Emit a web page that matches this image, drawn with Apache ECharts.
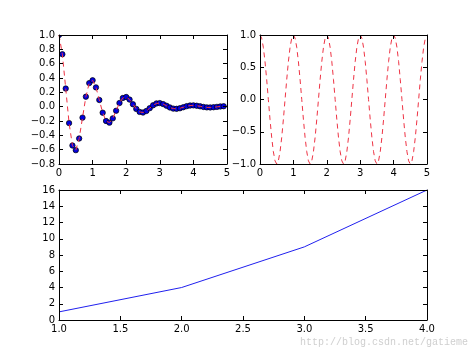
<!DOCTYPE html>
<html><head><meta charset="utf-8">
<script src="https://cdn.jsdelivr.net/npm/echarts@6/dist/echarts.min.js"></script>
<style>html,body{margin:0;padding:0;background:#fff}#c{width:474px;height:355px}</style>
</head><body><div id="c"></div>
<script>
// Subplot 1: damped cosine sample points
const t1 = [0,0.1,0.2,0.3,0.4,0.5,0.6,0.7,0.8,0.9,1.0,1.1,1.2,1.3,1.4,1.5,1.6,1.7,1.8,1.9,2.0,2.1,2.2,2.3,2.4,2.5,2.6,2.7,2.8,2.9,3.0,3.1,3.2,3.3,3.4,3.5,3.6,3.7,3.8,3.9,4.0,4.1,4.2,4.3,4.4,4.5,4.6,4.7,4.8,4.9];
const f1 = [1.0,0.732,0.253,-0.229,-0.542,-0.607,-0.444,-0.153,0.139,0.329,0.368,0.269,0.093,-0.084,-0.200,-0.223,-0.163,-0.057,0.051,0.121,0.135,0.099,0.034,-0.031,-0.073,-0.082,-0.060,-0.021,0.019,0.045,0.050,0.036,0.013,-0.011,-0.027,-0.030,-0.022,-0.008,0.007,0.016,0.018,0.013,0.005,-0.004,-0.010,-0.011,-0.008,-0.003,0.003,0.006];
// Subplot 2: cosine
const t2 = [0,0.05,0.1,0.15,0.2,0.25,0.3,0.35,0.4,0.45,0.5,0.55,0.6,0.65,0.7,0.75,0.8,0.85,0.9,0.95,
1.0,1.05,1.1,1.15,1.2,1.25,1.3,1.35,1.4,1.45,1.5,1.55,1.6,1.65,1.7,1.75,1.8,1.85,1.9,1.95,
2.0,2.05,2.1,2.15,2.2,2.25,2.3,2.35,2.4,2.45,2.5,2.55,2.6,2.65,2.7,2.75,2.8,2.85,2.9,2.95,
3.0,3.05,3.1,3.15,3.2,3.25,3.3,3.35,3.4,3.45,3.5,3.55,3.6,3.65,3.7,3.75,3.8,3.85,3.9,3.95,
4.0,4.05,4.1,4.15,4.2,4.25,4.3,4.35,4.4,4.45,4.5,4.55,4.6,4.65,4.7,4.75,4.8,4.85,4.9,4.95,5.0];
const f2 = [1,0.951,0.809,0.588,0.309,0,-0.309,-0.588,-0.809,-0.951,-1,-0.951,-0.809,-0.588,-0.309,0,0.309,0.588,0.809,0.951,
1,0.951,0.809,0.588,0.309,0,-0.309,-0.588,-0.809,-0.951,-1,-0.951,-0.809,-0.588,-0.309,0,0.309,0.588,0.809,0.951,
1,0.951,0.809,0.588,0.309,0,-0.309,-0.588,-0.809,-0.951,-1,-0.951,-0.809,-0.588,-0.309,0,0.309,0.588,0.809,0.951,
1,0.951,0.809,0.588,0.309,0,-0.309,-0.588,-0.809,-0.951,-1,-0.951,-0.809,-0.588,-0.309,0,0.309,0.588,0.809,0.951,
1,0.951,0.809,0.588,0.309,0,-0.309,-0.588,-0.809,-0.951,-1,-0.951,-0.809,-0.588,-0.309,0,0.309,0.588,0.809,0.951,1];
// Subplot 3
const x3 = [1,2,3,4];
const y3 = [1,4,9,16];

const pairs = (xs, ys) => xs.map((x, i) => [x, ys[i]]);
const fmt1 = v => (Math.round(v * 10) / 10).toFixed(1).replace('-', '\u2212');
const fmt0 = v => String(Math.round(v)).replace('-', '\u2212');
const font = {fontFamily: 'DejaVu Sans', fontSize: 10, color: '#000'};
const RED = '#ee3344';

function axisPair(gridIndex, min, max, interval, fmt, isX) {
  const common = {
    type: 'value', gridIndex, min, max, interval,
    axisLine: {show: true, onZero: false, lineStyle: {color: '#000', width: 1}},
    axisTick: {show: true, inside: true, length: 4, lineStyle: {color: '#000'}},
    splitLine: {show: false}, z: 5
  };
  return [
    Object.assign({}, common, {position: isX ? 'bottom' : 'left',
      axisLabel: Object.assign({show: true, margin: 4, formatter: fmt, showMinLabel: true, showMaxLabel: true}, font)}),
    Object.assign({}, common, {position: isX ? 'top' : 'right', axisLabel: {show: false}})
  ];
}

const xAxis = [].concat(
  axisPair(0, 0, 5, 1, fmt0, true),
  axisPair(1, 0, 5, 1, fmt0, true),
  axisPair(2, 1, 4, 0.5, fmt1, true)
);
const yAxis = [].concat(
  axisPair(0, -0.8, 1.0, 0.2, fmt1, false),
  axisPair(1, -1, 1, 0.5, fmt1, false),
  axisPair(2, 0, 16, 2, fmt0, false)
);

const chart = echarts.init(document.getElementById('c'), null, {renderer: 'canvas'});
chart.setOption({
  animation: false,
  backgroundColor: '#fff',
  grid: [
    {left: 59, top: 35, width: 168, height: 129},
    {left: 260, top: 35, width: 167, height: 129},
    {left: 59, top: 190, width: 368, height: 130}
  ],
  xAxis, yAxis,
  series: [
    {type: 'custom', xAxisIndex: 0, yAxisIndex: 0, data: pairs(t1, f1), clip: true, z: 2,
     renderItem: (params, api) => {
       const p = api.coord([api.value(0), api.value(1)]);
       return {type: 'circle', shape: {cx: p[0], cy: p[1], r: 2.7},
               style: {fill: '#0000e0', stroke: '#000', lineWidth: 0.7}};
     }},
    {type: 'line', xAxisIndex: 0, yAxisIndex: 0, data: pairs(t1, f1), showSymbol: false, clip: true,
     lineStyle: {color: RED, width: 1, type: [5, 4]}, z: 3},
    {type: 'line', xAxisIndex: 2, yAxisIndex: 2, data: pairs(t2, f2), showSymbol: false, clip: true,
     lineStyle: {color: RED, width: 1, type: [5, 4]}},
    {type: 'line', xAxisIndex: 4, yAxisIndex: 4, data: pairs(x3, y3), showSymbol: false, clip: true,
     lineStyle: {color: '#2020ee', width: 1}}
  ],
  graphic: [{type: 'text', right: 6, top: 337,
    style: {text: 'http://blog.csdn.net/gatieme', fill: '#cfcfcf', font: '10px "Liberation Mono"'}}]
});
</script></body></html>
